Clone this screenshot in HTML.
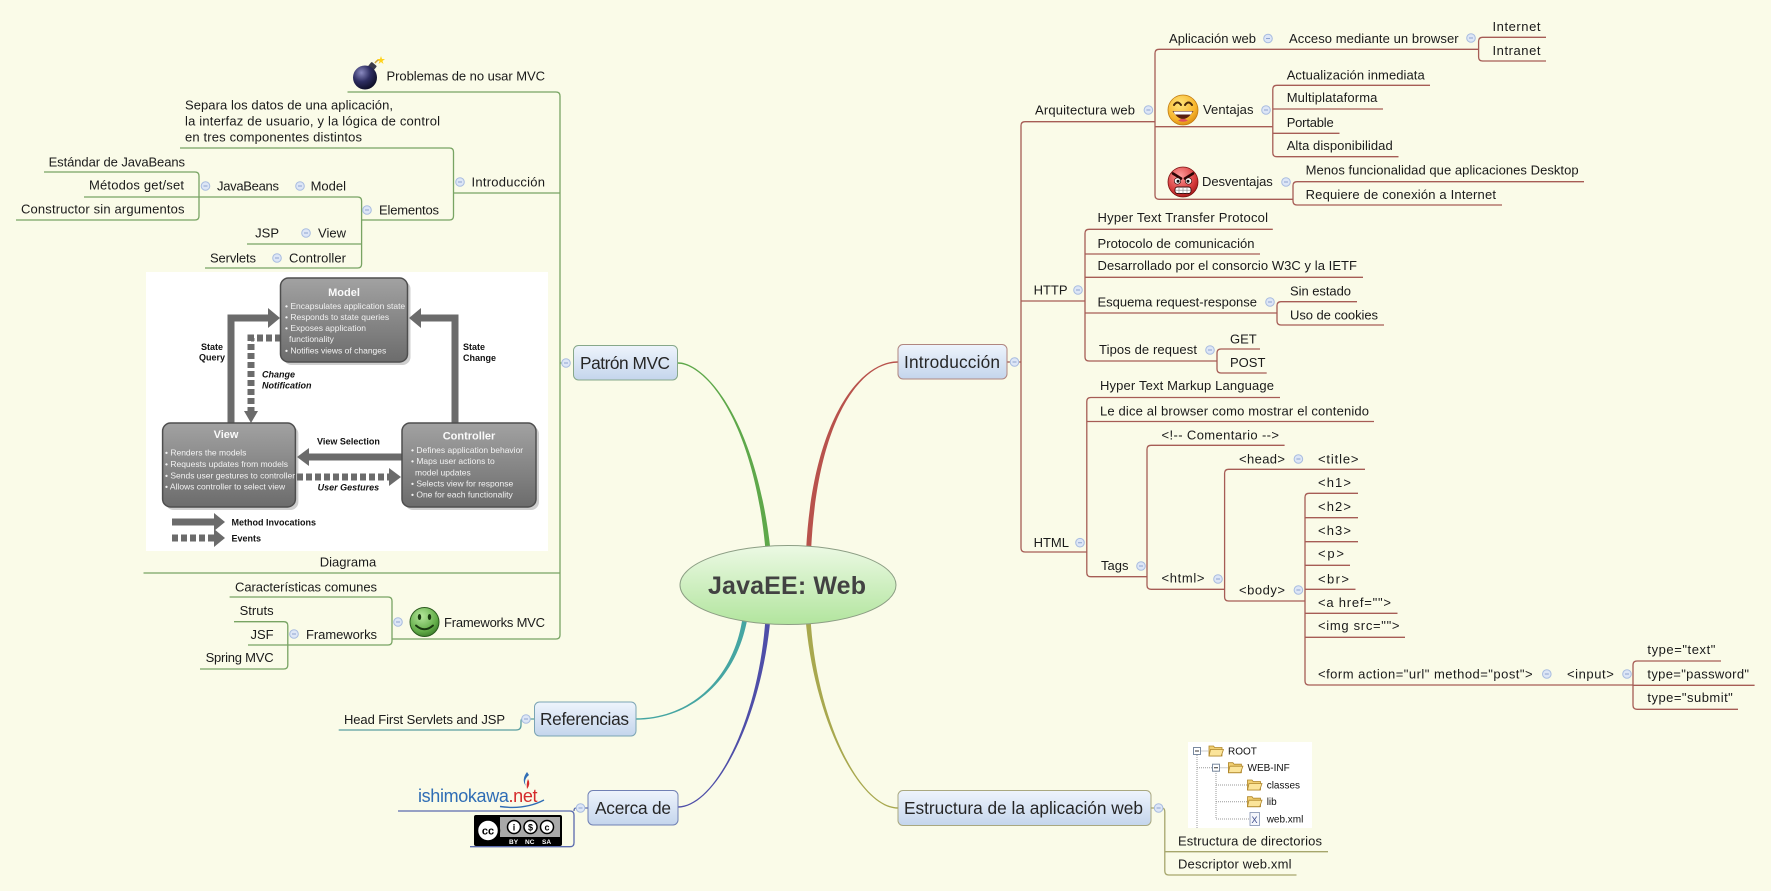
<!DOCTYPE html>
<html><head><meta charset="utf-8"><style>
html,body{margin:0;padding:0;background:#fafbe8;}
svg{display:block;}
text{font-family:"Liberation Sans",Arial,sans-serif;}
.t{font-size:13px;fill:#1a1a1a;}
.b{font-size:17.3px;fill:#262626;}
.m{font-size:8.5px;fill:#f2f2f2;}
.mt{font-size:11px;font-weight:bold;fill:#fafafa;}
.ml{font-size:9px;font-weight:bold;fill:#111;}
.tr{font-size:10px;fill:#111;}
</style></head><body>
<svg width="1771" height="891" viewBox="0 0 1771 891" xmlns="http://www.w3.org/2000/svg">
<defs>
<linearGradient id="bx" x1="0" y1="0" x2="0" y2="1"><stop offset="0" stop-color="#eef4fc"/><stop offset="1" stop-color="#c4d5ec"/></linearGradient>
<linearGradient id="rt" x1="0" y1="0" x2="0" y2="1"><stop offset="0" stop-color="#ecf9e4"/><stop offset="1" stop-color="#b2e59e"/></linearGradient>
<linearGradient id="gb" x1="0" y1="0" x2="0" y2="1"><stop offset="0" stop-color="#a2a2a2"/><stop offset="1" stop-color="#6c6c6c"/></linearGradient>
<radialGradient id="gy" cx="0.4" cy="0.3" r="0.75"><stop offset="0" stop-color="#ffe47a"/><stop offset="0.7" stop-color="#f7b52c"/><stop offset="1" stop-color="#d98a12"/></radialGradient>
<radialGradient id="gr" cx="0.4" cy="0.3" r="0.75"><stop offset="0" stop-color="#ff9c9c"/><stop offset="0.7" stop-color="#d63a3a"/><stop offset="1" stop-color="#a01818"/></radialGradient>
<radialGradient id="gg" cx="0.4" cy="0.3" r="0.75"><stop offset="0" stop-color="#b4e69a"/><stop offset="0.7" stop-color="#62ad48"/><stop offset="1" stop-color="#3a7a2a"/></radialGradient>
<radialGradient id="gk" cx="0.35" cy="0.3" r="0.75"><stop offset="0" stop-color="#8a8ac0"/><stop offset="0.5" stop-color="#2e2e62"/><stop offset="1" stop-color="#0c0c24"/></radialGradient>
</defs>

<!-- main tapered branches -->
<path d="M678,362.3 C705,362.3 756.2,419.6 770.5,550 L765.5,550 C753.8,420.4 705,363.7 678,363.7 Z" fill="#5ea84a"/>
<path d="M898,361.3 C860,361.3 812.8,419.6 806.1,550 L811.1,550 C817.2,420.4 860,362.7 898,362.7 Z" fill="#b8524c"/>
<path d="M636,718.3 C690,718.3 733.5,679 742.5,618 L747.5,618 C736.5,681 690,719.7 636,719.7 Z" fill="#45a5a2"/>
<path d="M678,806.3 C715,806.3 758.8,719.5 765.5,618 L770.5,618 C761.2,720.5 715,807.7 678,807.7 Z" fill="#4e4ea8"/>
<path d="M898,807.3 C860,807.3 816.2,719.5 810.5,618 L805.5,618 C813.8,720.5 860,808.7 898,808.7 Z" fill="#a8a84e"/>

<!-- green subtree lines -->
<g fill="none" stroke="#78a463" stroke-width="1.3">
<path d="M347.5 92 H556 Q560 92 560 96 V635 Q560 639 556 639 H392"/>
<path d="M453.5 193 H560"/>
<path d="M143.5 573 H560"/>
<path d="M560 363 H562"/>
<path d="M180 148 H449.5 Q453.5 148 453.5 152 V216 Q453.5 220 449.5 220 H361.6"/>
<path d="M199 197 H357.6 Q361.6 197 361.6 201 V264 Q361.6 268 357.6 268 H205"/>
<path d="M247 244 H361.6"/>
<path d="M44 172 H195 Q199 172 199 176 V216 Q199 220 195 220 H16"/>
<path d="M84 197 H199"/>
<path d="M229.6 597 H388 Q392 597 392 601 V641 Q392 645 388 645 H248"/>
<path d="M234 621.7 H283.8 Q287.8 621.7 287.8 625.7 V665 Q287.8 669 283.8 669 H200"/>
</g>

<!-- red subtree lines -->
<g fill="none" stroke="#a65c55" stroke-width="1.3">
<path d="M1155 121.7 H1025 Q1021 121.7 1021 125.7 V548 Q1021 552 1025 552 H1086.8"/>
<path d="M1021 301 H1085"/>
<path d="M1018 362 H1021"/>
<path d="M1007 362 H1010"/>
<path d="M1478.6 49.3 H1159 Q1155 49.3 1155 53.3 V195.3 Q1155 199.3 1159 199.3 H1293"/>
<path d="M1155 126.7 H1272.8"/>
<path d="M1546 37.3 H1482.6 Q1478.6 37.3 1478.6 41.3 V57 Q1478.6 61 1482.6 61 H1546"/>
<path d="M1430 85.3 H1276.8 Q1272.8 85.3 1272.8 89.3 V152.7 Q1272.8 156.7 1276.8 156.7 H1398.5"/>
<path d="M1272.8 109 H1383"/>
<path d="M1272.8 133.3 H1339.5"/>
<path d="M1584 181.7 H1297 Q1293 181.7 1293 185.7 V201 Q1293 205 1297 205 H1502"/>
<path d="M1272.8 229.3 H1089 Q1085 229.3 1085 233.3 V357 Q1085 361 1089 361 H1217"/>
<path d="M1085 254 H1260"/>
<path d="M1085 277.3 H1363"/>
<path d="M1085 313 H1277"/>
<path d="M1357 301.7 H1281 Q1277 301.7 1277 305.7 V321 Q1277 325 1281 325 H1384"/>
<path d="M1260 349 H1221 Q1217 349 1217 353 V369 Q1217 373 1221 373 H1266.7"/>
<path d="M1280 397.5 H1090.8 Q1086.8 397.5 1086.8 401.5 V572.7 Q1086.8 576.7 1090.8 576.7 H1147"/>
<path d="M1086.8 421.5 H1374"/>
<path d="M1284.6 445.3 H1151 Q1147 445.3 1147 449.3 V585.3 Q1147 589.3 1151 589.3 H1224.6"/>
<path d="M1365 469.3 H1228.6 Q1224.6 469.3 1224.6 473.3 V597 Q1224.6 601 1228.6 601 H1305"/>
<path d="M1358 493.3 H1309 Q1305 493.3 1305 497.3 V681 Q1305 685 1309 685 H1633"/>
<path d="M1305 517.7 H1358 M1305 541.7 H1358 M1305 565.3 H1350 M1305 589.3 H1355.5 M1305 613.3 H1397.5 M1305 637.3 H1405"/>
<path d="M1721 661 H1637 Q1633 661 1633 665 V705.3 Q1633 709.3 1637 709.3 H1738"/>
<path d="M1633 685.3 H1754.6"/>
</g>

<!-- olive / teal / blue lines -->
<g fill="none" stroke-width="1.3">
<path d="M1151 808 H1154 M1162 808 Q1164.8 808 1164.8 812 V871 Q1164.8 875 1168.8 875 H1296.5 M1164.8 851.7 H1328" stroke="#a6a66c"/>
<path d="M338.7 730 H516 Q521 730 521 725 V722 Q521 719 522 719 M530 719 H534" stroke="#5a9ea0"/>
<path d="M398 811 H570 Q574 811 574 815 V842.7 Q574 846.7 570 846.7 H470 M574 811 Q574 808 576 808 M585 808 H588" stroke="#5a6aae"/>
</g>

<!-- root -->
<ellipse cx="788" cy="585" rx="108" ry="39.5" fill="url(#rt)" stroke="#8c9e84" stroke-width="1"/>
<text x="787" y="594" text-anchor="middle" font-size="25" font-weight="bold" fill="#424242" textLength="158">JavaEE: Web</text>

<!-- main boxes -->
<rect x="573.5" y="345.5" width="104" height="34.5" rx="5" fill="url(#bx)" stroke="#87a88a"/>
<text class="b" x="580" y="369" textLength="90">Patrón MVC</text>
<rect x="898" y="344.5" width="109" height="34.5" rx="5" fill="url(#bx)" stroke="#b08680"/>
<text class="b" x="904" y="368" textLength="96">Introducción</text>
<rect x="534.5" y="702" width="101.5" height="34" rx="5" fill="url(#bx)" stroke="#7ba4b4"/>
<text class="b" x="540" y="725" textLength="89">Referencias</text>
<rect x="588" y="790.5" width="90" height="34.5" rx="5" fill="url(#bx)" stroke="#7080b4"/>
<text class="b" x="595" y="814" textLength="76">Acerca de</text>
<rect x="898" y="790.5" width="253" height="35" rx="5" fill="url(#bx)" stroke="#a9a880"/>
<text class="b" x="904" y="814" textLength="239">Estructura de la aplicación web</text>

<!-- left texts -->
<g class="t" text-anchor="end">
<text x="545" y="80.5" textLength="158.5">Problemas de no usar MVC</text>
<text x="545" y="186.5" textLength="73.5">Introducción</text>
<text x="185" y="166.5" textLength="136.4">Estándar de JavaBeans</text>
<text x="184" y="189.5" textLength="95">Métodos get/set</text>
<text x="279" y="190.5" textLength="62">JavaBeans</text>
<text x="346" y="190.5">Model</text>
<text x="184.5" y="213.5" textLength="163.5">Constructor sin argumentos</text>
<text x="439" y="214.5" textLength="60">Elementos</text>
<text x="279" y="237.5">JSP</text>
<text x="346" y="237.5">View</text>
<text x="256" y="262.5" textLength="46">Servlets</text>
<text x="346" y="262.5" textLength="57">Controller</text>
<text x="377" y="591.5" textLength="142">Características comunes</text>
<text x="273.6" y="615">Struts</text>
<text x="545" y="627" textLength="101">Frameworks MVC</text>
<text x="377" y="638.8" textLength="71">Frameworks</text>
<text x="273.6" y="638.8">JSF</text>
<text x="273.6" y="662" textLength="68">Spring MVC</text>
<text x="505" y="723.8" textLength="161">Head First Servlets and JSP</text>
</g>
<g class="t">
<text x="185" y="109.5" textLength="208">Separa los datos de una aplicación,</text>
<text x="185" y="125.5" textLength="255">la interfaz de usuario, y la lógica de control</text>
<text x="185" y="141.5" textLength="177">en tres componentes distintos</text>
<text x="348" y="566.5" text-anchor="middle" textLength="56.5">Diagrama</text>
</g>

<!-- right texts -->
<g class="t">
<text x="1169" y="42.8" textLength="87">Aplicación web</text>
<text x="1289" y="42.8" textLength="169.6">Acceso mediante un browser</text>
<text x="1492.5" y="31.2" textLength="48">Internet</text>
<text x="1492.5" y="55.2" textLength="48">Intranet</text>
<text x="1035" y="114.5" textLength="100">Arquitectura web</text>
<text x="1203" y="113.8" textLength="50.5">Ventajas</text>
<text x="1286.7" y="79.5" textLength="138">Actualización inmediata</text>
<text x="1286.7" y="102.2" textLength="90.7">Multiplataforma</text>
<text x="1286.7" y="127.2" textLength="47">Portable</text>
<text x="1286.7" y="150.2" textLength="106">Alta disponibilidad</text>
<text x="1202" y="186.2" textLength="70.8">Desventajas</text>
<text x="1305.6" y="174.5" textLength="273">Menos funcionalidad que aplicaciones Desktop</text>
<text x="1305.6" y="198.8" textLength="190.4">Requiere de conexión a Internet</text>
<text x="1097.5" y="221.8" textLength="170.5">Hyper Text Transfer Protocol</text>
<text x="1097.5" y="247.8" textLength="157">Protocolo de comunicación</text>
<text x="1097.5" y="270.2" textLength="259.5">Desarrollado por el consorcio W3C y la IETF</text>
<text x="1033.6" y="294.5">HTTP</text>
<text x="1097.5" y="306.5" textLength="159.5">Esquema request-response</text>
<text x="1290" y="295.5" textLength="61">Sin estado</text>
<text x="1290" y="319.5" textLength="88">Uso de cookies</text>
<text x="1099" y="353.8" textLength="98">Tipos de request</text>
<text x="1230" y="343.5">GET</text>
<text x="1230" y="367.2">POST</text>
<text x="1100" y="390.2" textLength="174">Hyper Text Markup Language</text>
<text x="1100" y="415.5" textLength="269">Le dice al browser como mostrar el contenido</text>
<text x="1161.5" y="439.5" textLength="117.5">&lt;!-- Comentario --&gt;</text>
<text x="1239" y="463.5" textLength="46">&lt;head&gt;</text>
<text x="1318" y="463.5" textLength="40.5">&lt;title&gt;</text>
<text x="1318" y="487.2" textLength="33">&lt;h1&gt;</text>
<text x="1318" y="511.2" textLength="33">&lt;h2&gt;</text>
<text x="1318" y="535.2" textLength="33">&lt;h3&gt;</text>
<text x="1033.6" y="547.2">HTML</text>
<text x="1318" y="557.8" textLength="26">&lt;p&gt;</text>
<text x="1101" y="570.2">Tags</text>
<text x="1161.5" y="582.5" textLength="43">&lt;html&gt;</text>
<text x="1318" y="583.5" textLength="31">&lt;br&gt;</text>
<text x="1239" y="594.5" textLength="46">&lt;body&gt;</text>
<text x="1318" y="607.2" textLength="73">&lt;a href=""&gt;</text>
<text x="1318" y="630.2" textLength="81.5">&lt;img src=""&gt;</text>
<text x="1647.4" y="653.8" textLength="68">type="text"</text>
<text x="1318" y="678.5" textLength="214.6">&lt;form action="url" method="post"&gt;</text>
<text x="1567" y="678.5" textLength="46.8">&lt;input&gt;</text>
<text x="1647.4" y="678.5" textLength="101.6">type="password"</text>
<text x="1647.4" y="701.8" textLength="85.4">type="submit"</text>
<text x="1178" y="845.5" textLength="144">Estructura de directorios</text>
<text x="1178" y="868.5" textLength="113.5">Descriptor web.xml</text>
</g>

<!-- collapse buttons -->
<g fill="#dde6f6" stroke="#a8bce0" stroke-width="1">
<circle cx="460" cy="182" r="4.3"/><circle cx="367" cy="210" r="4.3"/><circle cx="300" cy="186" r="4.3"/>
<circle cx="205.5" cy="186" r="4.3"/><circle cx="306" cy="233" r="4.3"/><circle cx="277" cy="258" r="4.3"/>
<circle cx="398" cy="622" r="4.3"/><circle cx="294" cy="634" r="4.3"/><circle cx="566" cy="363" r="4.3"/>
<circle cx="526" cy="719" r="4.3"/><circle cx="580.5" cy="808" r="4.3"/>
<circle cx="1014.5" cy="362" r="4.3"/><circle cx="1148.4" cy="110" r="4.3"/><circle cx="1268" cy="38.5" r="4.3"/>
<circle cx="1471" cy="38" r="4.3"/><circle cx="1266" cy="110" r="4.3"/><circle cx="1286" cy="182" r="4.3"/>
<circle cx="1078" cy="290" r="4.3"/><circle cx="1270" cy="302" r="4.3"/><circle cx="1210" cy="350" r="4.3"/>
<circle cx="1080" cy="542.7" r="4.3"/><circle cx="1141" cy="566" r="4.3"/><circle cx="1218" cy="579" r="4.3"/>
<circle cx="1298.4" cy="459" r="4.3"/><circle cx="1298.4" cy="590" r="4.3"/><circle cx="1546.8" cy="674" r="4.3"/>
<circle cx="1627" cy="674" r="4.3"/><circle cx="1158.6" cy="808" r="4.3"/>
</g>
<g stroke="#8ea4d0" stroke-width="1">
<path d="M458 182h4M365 210h4M298 186h4M203.5 186h4M304 233h4M275 258h4M396 622h4M292 634h4M564 363h4M524 719h4M578.5 808h4M1012.5 362h4M1146.4 110h4M1266 38.5h4M1469 38h4M1264 110h4M1284 182h4M1076 290h4M1268 302h4M1208 350h4M1078 542.7h4M1139 566h4M1216 579h4M1296.4 459h4M1296.4 590h4M1544.8 674h4M1625 674h4M1156.6 808h4"/>
</g>

<!-- bomb -->
<g>
<rect x="369" y="63" width="7" height="6" rx="1" fill="#3a3a4a" transform="rotate(40 372 66)"/>
<path d="M375 63 Q378 59 381 60" stroke="#c8a040" stroke-width="1.5" fill="none"/>
<path d="M381 56 L382 59 L385 59 L382.5 61 L383.5 64 L381 62 L378.5 64 L379.5 61 L377 59 L380 59 Z" fill="#ffd21a"/>
<circle cx="365" cy="77.5" r="12" fill="url(#gk)"/>
</g>

<!-- laughing emoji -->
<g>
<circle cx="1183" cy="110" r="15" fill="url(#gy)" stroke="#c07a10" stroke-width="0.8"/>
<path d="M1174 105 Q1177.5 100 1181 105" stroke="#4a2a0a" stroke-width="2" fill="none" stroke-linecap="round"/>
<path d="M1185 105 Q1188.5 100 1192 105" stroke="#4a2a0a" stroke-width="2" fill="none" stroke-linecap="round"/>
<path d="M1172.5 111 Q1183 127 1193.5 111 Z" fill="#5a2010"/>
<path d="M1173.5 111.5 H1192.5 L1191 114.5 H1175 Z" fill="#fff"/>
<path d="M1178 120.5 Q1183 117 1188 120.5 Q1183 123 1178 120.5 Z" fill="#e0505a"/>
</g>

<!-- angry emoji -->
<g>
<circle cx="1183" cy="182" r="15" fill="url(#gr)" stroke="#7a1010" stroke-width="0.8"/>
<path d="M1173 173.5 L1181 178.5 M1193 173.5 L1185 178.5" stroke="#2a0505" stroke-width="2.6" stroke-linecap="round"/>
<circle cx="1177.5" cy="181" r="3.2" fill="#fff" stroke="#3a0a0a" stroke-width="0.7"/>
<circle cx="1188.5" cy="181" r="3.2" fill="#fff" stroke="#3a0a0a" stroke-width="0.7"/>
<circle cx="1178" cy="181.3" r="1.5" fill="#111"/><circle cx="1188" cy="181.3" r="1.5" fill="#111"/>
<rect x="1175" y="187" width="16" height="6.5" rx="2.5" fill="#fff" stroke="#3a0a0a" stroke-width="0.9"/>
<path d="M1175 190.2 H1191 M1179 187 V193.5 M1183 187 V193.5 M1187 187 V193.5" stroke="#888" stroke-width="0.6"/>
</g>

<!-- green smiley -->
<g>
<circle cx="424.5" cy="622" r="14.5" fill="url(#gg)" stroke="#2a5a1e" stroke-width="1"/>
<ellipse cx="419.5" cy="617" rx="1.7" ry="3" fill="#1a3a10"/>
<ellipse cx="429.5" cy="617" rx="1.7" ry="3" fill="#1a3a10"/>
<path d="M416 625.5 Q424.5 633 433 625.5" stroke="#1a3a10" stroke-width="2" fill="none" stroke-linecap="round"/>
</g>

<!-- MVC diagram image -->
<g>
<rect x="146" y="272" width="402" height="279" fill="#fff"/>
<rect x="283.5" y="281" width="127" height="84" rx="8" fill="#cfcfcf"/>
<rect x="165.6" y="426" width="132.8" height="84" rx="8" fill="#cfcfcf"/>
<rect x="405" y="426" width="134" height="84" rx="8" fill="#cfcfcf"/>
<g fill="none" stroke="#6b6b6b" stroke-width="7">
<path d="M231 423 V318 H270"/>
<path d="M455 423 V318 H420"/>
<path d="M402 457 H308"/>
<path d="M172 522 H215"/>
</g>
<g fill="none" stroke="#6b6b6b" stroke-width="7" stroke-dasharray="6 3">
<path d="M281 338 H251 V411"/>
<path d="M297 477 H390"/>
<path d="M172 538 H215"/>
</g>
<g fill="#6b6b6b">
<polygon points="268,308 280,318 268,328"/>
<polygon points="421,308 409,318 421,328"/>
<polygon points="244,411 258,411 251,423"/>
<polygon points="309,448 297,457 309,466"/>
<polygon points="389,468 401,477 389,486"/>
<polygon points="214,513 225,522 214,531"/>
<polygon points="214,529 225,538 214,547"/>
</g>
<rect x="280.5" y="278" width="127" height="84" rx="8" fill="url(#gb)" stroke="#4e4e4e" stroke-width="1.5"/>
<rect x="162.6" y="423" width="132.8" height="84" rx="8" fill="url(#gb)" stroke="#4e4e4e" stroke-width="1.5"/>
<rect x="402" y="423" width="134" height="84" rx="8" fill="url(#gb)" stroke="#4e4e4e" stroke-width="1.5"/>
<text class="mt" x="344" y="296" text-anchor="middle">Model</text>
<text class="m" x="285" y="309">• Encapsulates application state</text>
<text class="m" x="285" y="320">• Responds to state queries</text>
<text class="m" x="285" y="331">• Exposes application</text>
<text class="m" x="289" y="342">functionality</text>
<text class="m" x="285" y="353.5">• Notifies views of changes</text>
<text class="mt" x="226" y="438" text-anchor="middle">View</text>
<text class="m" x="165" y="455.7">• Renders the models</text>
<text class="m" x="165" y="467">• Requests updates from models</text>
<text class="m" x="165" y="478.3">• Sends user gestures to controller</text>
<text class="m" x="165" y="489.3">• Allows controller to select view</text>
<text class="mt" x="469" y="439.7" text-anchor="middle">Controller</text>
<text class="m" x="411" y="453">• Defines application behavior</text>
<text class="m" x="411" y="464">• Maps user actions to</text>
<text class="m" x="415" y="475.3">model updates</text>
<text class="m" x="411" y="486.3">• Selects view for response</text>
<text class="m" x="411" y="497.7">• One for each functionality</text>
<text class="ml" x="212" y="350" text-anchor="middle">State</text>
<text class="ml" x="212" y="360.5" text-anchor="middle">Query</text>
<text class="ml" x="463" y="350">State</text>
<text class="ml" x="463" y="361">Change</text>
<text class="ml" x="262" y="377.5" font-style="italic">Change</text>
<text class="ml" x="262" y="388.5" font-style="italic">Notification</text>
<text class="ml" x="317" y="444.5">View Selection</text>
<text class="ml" x="317.6" y="490.5" font-style="italic">User Gestures</text>
<text class="ml" x="231.5" y="525.5" font-size="10">Method Invocations</text>
<text class="ml" x="231.5" y="541.5" font-size="10">Events</text>
</g>

<!-- directory tree image -->
<g>
<rect x="1188" y="742" width="124" height="86" fill="#fff"/>
<g stroke="#9a9a9a" stroke-width="1" stroke-dasharray="1 1" fill="none">
<path d="M1197 755 V828 M1200.5 751 H1209 M1197 767.7 H1212.5 M1219.5 767.7 H1228 M1216 771 V819 M1216 785 H1247 M1216 801.7 H1247 M1216 819 H1249"/>
</g>
<g fill="#fff" stroke="#7a8aa0" stroke-width="1">
<rect x="1193.5" y="747.5" width="7" height="7"/>
<rect x="1212.5" y="764.2" width="7" height="7"/>
</g>
<path d="M1195 751 H1199 M1214 767.7 H1218" stroke="#333" stroke-width="1"/>
<g stroke="#b0862a" stroke-width="0.8">
<path d="M1209 746 h4.5 l1.2 1.5 h7.3 v8.5 h-13 z" fill="#f1cf72"/>
<path d="M1210.5 749.5 h13 l-2.3 6.5 h-12.2 z" fill="#fbe49a"/>
<path d="M1228.4 762.7 h4.5 l1.2 1.5 h7.3 v8.5 h-13 z" fill="#f1cf72"/>
<path d="M1229.9 766.2 h13 l-2.3 6.5 h-12.2 z" fill="#fbe49a"/>
<path d="M1247.5 780 h4.5 l1.2 1.5 h7.3 v8.5 h-13 z" fill="#f1cf72"/>
<path d="M1249 783.5 h13 l-2.3 6.5 h-12.2 z" fill="#fbe49a"/>
<path d="M1247.5 796.7 h4.5 l1.2 1.5 h7.3 v8.5 h-13 z" fill="#f1cf72"/>
<path d="M1249 800.2 h13 l-2.3 6.5 h-12.2 z" fill="#fbe49a"/>
</g>
<rect x="1250" y="812.5" width="9.5" height="13" fill="#f4f6fb" stroke="#8090b0" stroke-width="0.8"/>
<text x="1251.5" y="823" font-size="9" fill="#3a4a8a">X</text>
<text class="tr" x="1228" y="754.5">ROOT</text>
<text class="tr" x="1247.5" y="771.2">WEB-INF</text>
<text class="tr" x="1266.7" y="788.5">classes</text>
<text class="tr" x="1266.7" y="805.2">lib</text>
<text class="tr" x="1266.7" y="822.5">web.xml</text>
</g>

<!-- logo -->
<g>
<path d="M527 772 Q521 780 526 786 Q523 780 529 775 Z" fill="#2f6db5"/>
<path d="M528 779 Q531 784 527 789 Q526 784 528 779 Z" fill="#d42a2a"/>
<text x="418" y="802" font-size="18" fill="#2f6db5" textLength="119" letter-spacing="-0.5">ishimokawa<tspan fill="#d42a2a">.net</tspan></text>
<path d="M500 806.5 Q525 810 544 800" stroke="#2f6db5" stroke-width="1.4" fill="none"/>
</g>

<!-- CC badge -->
<g>
<rect x="474" y="815" width="88" height="31" rx="2" fill="#000"/>
<rect x="500" y="817" width="60" height="20" fill="#a9a9a9"/>
<circle cx="488" cy="830.5" r="11" fill="#fff" stroke="#000" stroke-width="2.5"/>
<text x="488" y="834.5" font-size="11" font-weight="bold" text-anchor="middle" fill="#000">cc</text>
<circle cx="514" cy="827" r="6.5" fill="#fff" stroke="#000" stroke-width="1.5"/>
<circle cx="530.5" cy="827" r="6.5" fill="#fff" stroke="#000" stroke-width="1.5"/>
<circle cx="547" cy="827" r="6.5" fill="#fff" stroke="#000" stroke-width="1.5"/>
<text x="514" y="830.5" font-size="9" font-weight="bold" text-anchor="middle" fill="#000">i</text>
<text x="530.5" y="830.5" font-size="9" font-weight="bold" text-anchor="middle" fill="#000">$</text>
<text x="547" y="830.5" font-size="9" font-weight="bold" text-anchor="middle" fill="#000">c</text>
<text x="509" y="844" font-size="6.5" font-weight="bold" fill="#fff">BY</text>
<text x="525" y="844" font-size="6.5" font-weight="bold" fill="#fff">NC</text>
<text x="542" y="844" font-size="6.5" font-weight="bold" fill="#fff">SA</text>
</g>
</svg>
</body></html>
